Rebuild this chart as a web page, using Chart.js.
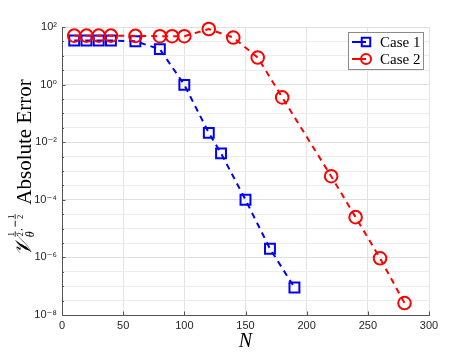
<!DOCTYPE html>
<html><head><meta charset="utf-8">
<script src="https://cdn.jsdelivr.net/npm/chart.js@4/dist/chart.umd.min.js"></script>
<style>html,body{margin:0;padding:0;background:#fff}#wrap{width:474px;height:355px;position:relative}</style>
</head><body><div id="wrap"><canvas id="c"></canvas></div>
<script>
// ---- data ----
const seriesNames = ['Case 1', 'Case 2'];
const case1N   = [10, 20, 30, 40, 60, 80, 100, 120, 130, 150, 170, 190];
const case1Err = [34, 34, 34, 34, 32, 17, 0.98, 0.021, 0.0041, 1.0e-4, 2.0e-6, 9e-8];
const case2N   = [10, 20, 30, 40, 60, 80, 90, 100, 120, 140, 160, 180, 220, 240, 260, 280];
const case2Err = [50, 50, 50, 50, 49, 48, 48, 48, 85, 43, 8.7, 0.36, 6.6e-4, 2.5e-5, 9.3e-7, 2.6e-8];
const xTickValues = [0, 50, 100, 150, 200, 250, 300];
const yLabelExps = [2, 0, -2, -4, -6, -8];
const yGridExps = [2, 1.5, 1, 0.5, 0, -0.5, -1, -1.5, -2, -2.5, -3, -3.5, -4, -4.5, -5, -5.5, -6, -6.5, -7, -7.5, -8];
const xTitle = 'N';
const yTitleText = 'Absolute Error';

const SUP = {'0':'⁰','1':'¹','2':'²','3':'³','4':'⁴','5':'⁵','6':'⁶','7':'⁷','8':'⁸','9':'⁹','-':'⁻'};
const sup = s => String(s).split('').map(c => SUP[c] || c).join('');
const expOf = v => Math.round(Math.log10(v) * 2) / 2;

const serif = '"Liberation Serif", "DejaVu Serif", serif';
const sans = '"Liberation Sans", Arial, "DejaVu Sans", sans-serif';

// y-axis title drawn as composite math text
const yTitlePlugin = {
  id: 'yTitle',
  afterDraw(chart) {
    const ctx = chart.ctx, ca = chart.chartArea;
    ctx.save();
    const cy = (ca.top + ca.bottom) / 2 - 3;
    ctx.translate(31, cy);
    ctx.rotate(-Math.PI / 2);
    ctx.fillStyle = '#000';
    ctx.strokeStyle = '#000';
    ctx.textBaseline = 'alphabetic';
    ctx.textAlign = 'left';
    const vFont = 'italic 23px ' + serif;
    const mainFont = '21px ' + serif;
    ctx.font = vFont; const wV = ctx.measureText('𝒱').width;
    const wS = 24, gap = 9;
    ctx.font = mainFont; const wA = ctx.measureText(yTitleText).width;
    const total = wV + wS + gap + wA;
    let u = -total / 2;
    ctx.font = vFont; ctx.fillText('𝒱', u, 0);
    u += wV;
    // subscript theta
    ctx.font = 'italic 12px ' + serif; ctx.fillText('θ', u + 0.5, 3);
    // superscript 1/2 , -1/2 as stacked fractions
    const frac = (x) => {
      ctx.font = '8px ' + serif;
      ctx.textAlign = 'center';
      ctx.fillText('1', x + 2.5, -17.5);
      ctx.fillText('2', x + 2.5, -8.5);
      ctx.lineWidth = 0.8;
      ctx.beginPath(); ctx.moveTo(x, -15.8); ctx.lineTo(x + 5, -15.8); ctx.stroke();
      ctx.textAlign = 'left';
    };
    frac(u + 1);
    ctx.font = '9px ' + serif; ctx.fillText(',', u + 7, -9);
    ctx.lineWidth = 0.9;
    ctx.beginPath(); ctx.moveTo(u + 11, -15.8); ctx.lineTo(u + 17, -15.8); ctx.stroke();
    frac(u + 18.5);
    u += wS + gap;
    ctx.font = mainFont; ctx.fillText(yTitleText, u, 0);
    ctx.restore();
  }
};

// inward tick marks (MATLAB style)
const tickPlugin = {
  id: 'inTicks',
  afterDatasetsDraw(chart) {
    const ctx = chart.ctx, ca = chart.chartArea;
    const xs = chart.scales.x, ys = chart.scales.y;
    ctx.save();
    ctx.strokeStyle = '#555'; ctx.lineWidth = 1;
    ctx.beginPath();
    xTickValues.forEach(v => {
      const px = Math.round(xs.getPixelForValue(v)) + 0.5;
      ctx.moveTo(px, ca.bottom); ctx.lineTo(px, ca.bottom - 3.5);
    });
    yGridExps.forEach(e => {
      const py = Math.round(ys.getPixelForValue(Math.pow(10, e))) + 0.5;
      const len = yLabelExps.includes(e) ? 3.5 : 2;
      ctx.moveTo(ca.left, py); ctx.lineTo(ca.left + len, py);
    });
    ctx.stroke();
    ctx.restore();
  }
};

// legend in MATLAB style
const legendPlugin = {
  id: 'matLegend',
  afterDraw(chart) {
    const ctx = chart.ctx;
    const bx = 348, by = 32, bw = 75, bh = 37;
    ctx.save();
    ctx.fillStyle = '#fff'; ctx.fillRect(bx, by, bw, bh);
    ctx.strokeStyle = '#8a8a8a'; ctx.lineWidth = 1;
    ctx.strokeRect(bx + 0.5, by + 0.5, bw, bh);
    chart.data.datasets.forEach((ds, i) => {
      const y = by + 10 + i * 17;
      ctx.strokeStyle = ds.borderColor; ctx.lineWidth = 2; ctx.setLineDash([]);
      ctx.beginPath(); ctx.moveTo(bx + 4, y); ctx.lineTo(bx + 18, y); ctx.stroke();
      ctx.fillStyle = 'rgba(0,0,0,0)';
      ctx.strokeStyle = ds.borderColor; ctx.lineWidth = 2;
      Chart.helpers.drawPoint(ctx, {pointStyle: ds.pointStyle, radius: ds.pointStyle === 'rect' ? 6 : 5, rotation: 0, borderWidth: 2}, bx + 18, y);
      ctx.fillStyle = '#000'; ctx.font = '15px ' + serif;
      ctx.textBaseline = 'middle'; ctx.textAlign = 'left';
      ctx.fillText(seriesNames[i], bx + 32, y + 1);
    });
    ctx.restore();
  }
};

new Chart(document.getElementById('c'), {
  type: 'line',
  data: {
    datasets: [
      {
        label: seriesNames[0],
        data: case1N.map((n, i) => ({x: n, y: case1Err[i]})),
        borderColor: '#0000ff', borderWidth: 2, borderDash: [6, 5],
        pointStyle: 'rect', pointRadius: 7, pointBorderWidth: 2,
        pointBorderColor: '#0000ff', pointBackgroundColor: 'rgba(0,0,0,0)',
        fill: false, tension: 0, clip: false, order: 1
      },
      {
        label: seriesNames[1],
        data: case2N.map((n, i) => ({x: n, y: case2Err[i]})),
        borderColor: '#ff0000', borderWidth: 2, borderDash: [6, 5],
        pointStyle: 'circle', pointRadius: 6.3, pointBorderWidth: 2,
        pointBorderColor: '#ff0000', pointBackgroundColor: 'rgba(0,0,0,0)',
        fill: false, tension: 0, clip: false, order: 0
      }
    ]
  },
  options: {
    responsive: true, maintainAspectRatio: false, animation: false,
    layout: {padding: {left: 0, top: 27, right: 45, bottom: 0}},
    plugins: {legend: {display: false}, tooltip: {enabled: false}},
    scales: {
      x: {
        type: 'linear', min: 0, max: 300,
        afterBuildTicks: s => { s.ticks = xTickValues.map(v => ({value: v})); },
        afterFit: s => { s.height = 40; },
        grid: {drawTicks: false, color: '#e3e3e3', lineWidth: 1},
        border: {display: true, color: '#555', width: 1},
        ticks: {padding: 4, color: '#262626', font: {family: sans, size: 11}, maxRotation: 0},
        title: {display: true, text: xTitle, color: '#000', font: {family: serif, size: 20, style: 'italic'}, padding: {top: 0, bottom: 1}}
      },
      y: {
        type: 'logarithmic', min: 1e-8, max: 1e2,
        afterBuildTicks: s => { s.ticks = yGridExps.map(e => ({value: Math.pow(10, e)})); },
        afterFit: s => { s.width = 62; },
        grid: {drawTicks: false, lineWidth: 1,
          color: c => (c.tick && yLabelExps.includes(expOf(c.tick.value))) ? '#dfdfdf' : '#ececec'},
        border: {display: true, color: '#555', width: 1},
        ticks: {autoSkip: false, padding: 5, color: '#262626', font: {family: sans, size: 11},
          callback: v => { const e = expOf(v); return yLabelExps.includes(e) ? '10' + sup(e) : ''; }}
      }
    }
  },
  plugins: [yTitlePlugin, tickPlugin, legendPlugin]
});
</script>
</body></html>
